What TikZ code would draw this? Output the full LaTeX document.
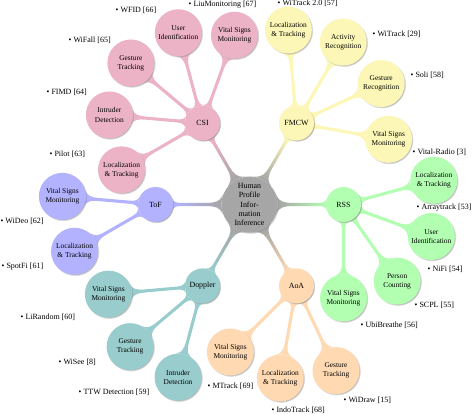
\documentclass[tikz,border=0pt]{standalone}
\usepackage{fontspec}
\setmainfont{Liberation Serif}
\usetikzlibrary{mindmap,shadows,calc,backgrounds}
\begin{document}
\begin{tikzpicture}[x=1pt,y=1pt,
  cbase/.style={circle, inner sep=0pt, align=center, text=black, fill=#1,
     circular drop shadow={shadow xshift=0.7pt, shadow yshift=-0.7pt, shadow scale=1.03, fill=black!45}},
  rootc/.style={cbase=gray!70, minimum size=56pt, font=\fontsize{7.9}{9.2}\selectfont},
  lvlone/.style={cbase=#1, minimum size=35pt, font=\fontsize{7.9}{9.2}\selectfont},
  lvltwo/.style={cbase=#1, minimum size=47pt, font=\fontsize{7.4}{9.2}\selectfont},
  annot/.style={anchor=west, inner sep=0pt, font=\fontsize{8}{9.6}\selectfont},
  connbar/.style={line width=3.5pt},
]
\useasboundingbox (0,0) rectangle (474,414);
\colorlet{cCSI}{purple!30}
\definecolor{cFMCW}{RGB}{252,247,182}
\colorlet{cRSS}{green!30}
\colorlet{cAoA}{orange!30}
\colorlet{cDop}{teal!40}
\colorlet{cToF}{blue!30}
\colorlet{cRoot}{gray!70}

% root
\node[rootc] (root) at (249.5,209.5) {Human\\Profile\\Infor-\\mation\\Inference};

% level 1
\node[lvlone=cCSI]  (csi)  at ($(root)+(120:94)$) {CSI};
\node[lvlone=cFMCW] (fmcw) at ($(root)+(60:94)$) {FMCW};
\node[lvlone=cRSS]  (rss)  at ($(root)+(0:94)$) {RSS};
\node[lvlone=cAoA]  (aoa)  at ($(root)+(-60:94)$) {AoA};
\node[lvlone=cDop]  (dop)  at ($(root)+(-120:94)$) {Doppler};
\node[lvlone=cToF]  (tof)  at ($(root)+(180:94)$) {ToF};

% CSI children
\node[lvltwo=cCSI] (csi1) at ($(csi)+(70:93.5)$) {Vital Signs\\Monitoring};
\node[lvltwo=cCSI] (csi2) at ($(csi)+(105:93.5)$) {User\\Identification};
\node[lvltwo=cCSI] (csi3) at ($(csi)+(140:93.5)$) {Gesture\\Tracking};
\node[lvltwo=cCSI] (csi4) at ($(csi)+(175:93.5)$) {Intruder\\Detection};
\node[lvltwo=cCSI] (csi5) at ($(csi)+(210:93.5)$) {Localization\\\& Tracking};

% FMCW children
\node[lvltwo=cFMCW] (fm1) at ($(fmcw)+(95:93.5)$) {Localization\\\& Tracking};
\node[lvltwo=cFMCW] (fm2) at ($(fmcw)+(60:93.5)$) {Activity\\Recognition};
\node[lvltwo=cFMCW] (fm3) at ($(fmcw)+(25:93.5)$) {Gesture\\Recognition};
\node[lvltwo=cFMCW] (fm4) at ($(fmcw)+(-10:93.5)$) {Vital Signs\\Monitoring};

% RSS children
\node[lvltwo=cRSS] (rs1) at ($(rss)+(15:93.5)$) {Localization\\\& Tracking};
\node[lvltwo=cRSS] (rs2) at ($(rss)+(-20:93.5)$) {User\\Identification};
\node[lvltwo=cRSS] (rs3) at ($(rss)+(-55:93.5)$) {Person\\Counting};
\node[lvltwo=cRSS] (rs4) at ($(rss)+(-90:93.5)$) {Vital Signs\\Monitoring};

% AoA children
\node[lvltwo=cAoA] (ao1) at ($(aoa)+(-65:93.5)$) {Gesture\\Tracking};
\node[lvltwo=cAoA] (ao2) at ($(aoa)+(-100:93.5)$) {Localization\\\& Tracking};
\node[lvltwo=cAoA] (ao3) at ($(aoa)+(-135:93.5)$) {Vital Signs\\Monitoring};

% Doppler children
\node[lvltwo=cDop] (do1) at ($(dop)+(-105:94.5)$) {Intruder\\Detection};
\node[lvltwo=cDop] (do2) at ($(dop)+(-140:94.5)$) {Gesture\\Tracking};
\node[lvltwo=cDop] (do3) at ($(dop)+(-175:94.5)$) {Vital Signs\\Monitoring};

% ToF children
\node[lvltwo=cToF] (to1) at ($(tof)+(175:93.5)$) {Vital Signs\\Monitoring};
\node[lvltwo=cToF] (to2) at ($(tof)+(210:93.5)$) {Localization\\\& Tracking};

% connections
\begin{pgfonlayer}{background}
\path[connbar] (root) to[circle connection bar switch color=from (cRoot) to (cCSI)] (csi);
\path[connbar] (root) to[circle connection bar switch color=from (cRoot) to (cFMCW)] (fmcw);
\path[connbar] (root) to[circle connection bar switch color=from (cRoot) to (cRSS)] (rss);
\path[connbar] (root) to[circle connection bar switch color=from (cRoot) to (cAoA)] (aoa);
\path[connbar] (root) to[circle connection bar switch color=from (cRoot) to (cDop)] (dop);
\path[connbar] (root) to[circle connection bar switch color=from (cRoot) to (cToF)] (tof);
\foreach \c in {csi1,csi2,csi3,csi4,csi5}
  \path[connbar] (csi) to[circle connection bar switch color=from (cCSI) to (cCSI)] (\c);
\foreach \c in {fm1,fm2,fm3,fm4}
  \path[connbar] (fmcw) to[circle connection bar switch color=from (cFMCW) to (cFMCW)] (\c);
\foreach \c in {rs1,rs2,rs3,rs4}
  \path[connbar] (rss) to[circle connection bar switch color=from (cRSS) to (cRSS)] (\c);
\foreach \c in {ao1,ao2,ao3}
  \path[connbar] (aoa) to[circle connection bar switch color=from (cAoA) to (cAoA)] (\c);
\foreach \c in {do1,do2,do3}
  \path[connbar] (dop) to[circle connection bar switch color=from (cDop) to (cDop)] (\c);
\foreach \c in {to1,to2}
  \path[connbar] (tof) to[circle connection bar switch color=from (cToF) to (cToF)] (\c);
\end{pgfonlayer}

% annotations
\node[annot] (a66) at (115.5,404) {\textbullet\ WFID [66]};
\node[annot] (a67) at (188.5,409) {\textbullet\ LiuMonitoring [67]};
\node[annot] (a57) at (277.5,411) {\textbullet\ WiTrack 2.0 [57]};
\node[annot] (a29) at (372.5,380) {\textbullet\ WiTrack [29]};
\node[annot] (a58) at (410.5,339) {\textbullet\ Soli [58]};
\node[annot] (a3)  at (412.5,262) {\textbullet\ Vital-Radio [3]};
\node[annot] (a53) at (416.5,206) {\textbullet\ Arraytrack [53]};
\node[annot] (a54) at (427.5,145) {\textbullet\ NiFi [54]};
\node[annot] (a55) at (414.5,109) {\textbullet\ SCPL [55]};
\node[annot] (a56) at (360.5,89)  {\textbullet\ UbiBreathe [56]};
\node[annot] (a15) at (343.5,14)  {\textbullet\ WiDraw [15]};
\node[annot] (a68) at (271.5,4)   {\textbullet\ IndoTrack [68]};
\node[annot] (a69) at (207.5,28)  {\textbullet\ MTrack [69]};
\node[annot] (a59) at (78.5,22)   {\textbullet\ TTW Detection [59]};
\node[annot] (a8)  at (58.5,52)   {\textbullet\ WiSee [8]};
\node[annot] (a60) at (20.5,97)   {\textbullet\ LiRandom [60]};
\node[annot] (a61) at (1.5,147)   {\textbullet\ SpotFi [61]};
\node[annot] (a62) at (0.5,193)   {\textbullet\ WiDeo [62]};
\node[annot] (a63) at (49.5,260)  {\textbullet\ Pilot [63]};
\node[annot] (a64) at (46.5,322)  {\textbullet\ FIMD [64]};
\node[annot] (a65) at (68.5,374)  {\textbullet\ WiFall [65]};
\end{tikzpicture}
\end{document}
